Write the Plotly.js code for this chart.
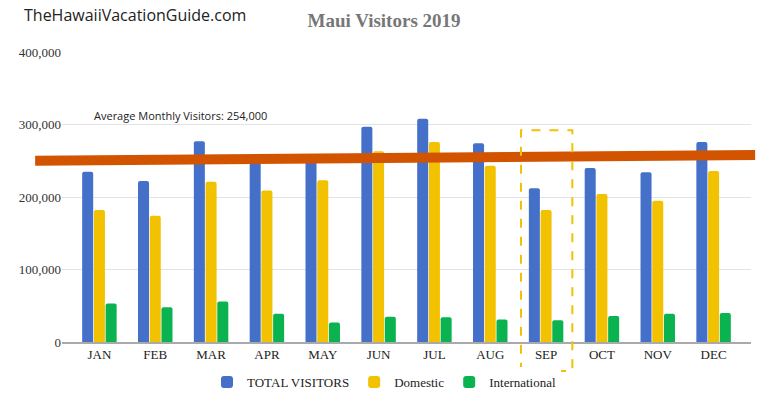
<!DOCTYPE html>
<html>
<head>
<meta charset="utf-8">
<script src="https://cdn.plot.ly/plotly-3.0.1.min.js"></script>
<style>html,body{margin:0;padding:0;background:#fff;}#chart{width:768px;height:401px;}</style>
</head>
<body>
<div id="chart"></div>
<script>
const months = ['JAN','FEB','MAR','APR','MAY','JUN','JUL','AUG','SEP','OCT','NOV','DEC'];
const totalVisitors = [235000, 222000, 277000, 252000, 252000, 297000, 308000, 274000, 212000, 240000, 234000, 276000];
const domestic = [182000, 174000, 221000, 209000, 223000, 263000, 276000, 243000, 182000, 204000, 195000, 236000];
const international = [53000, 48000, 56000, 39000, 27000, 35000, 34000, 31000, 30000, 36000, 39000, 40000];
const seriesNames = ['TOTAL VISITORS', 'Domestic', 'International'];
const yTicks = [0, 100000, 200000, 300000, 400000];
const trendLine = [250000, 258000];
const averageLabel = 'Average Monthly Visitors: 254,000';
const highlightMonth = 'SEP';

const colors = ['#4470c9', '#f2c200', '#0ab34f'];
const xRange = [-0.67, 11.67];
const yRange = [0, 400000];
const serif = 'Liberation Serif, Times New Roman, serif';

const traces = [totalVisitors, domestic, international].map((vals, i) => ({
  type: 'bar', name: seriesNames[i], x: months.map((m, k) => k), y: vals,
  marker: {color: colors[i], cornerradius: 2}, hoverinfo: 'skip'
}));

const hi = months.indexOf(highlightMonth);
const toPx = v => (v - xRange[0]) / (xRange[1] - xRange[0]);
const toPy = v => (v - yRange[0]) / (yRange[1] - yRange[0]);

const layout = {
  width: 768, height: 401,
  margin: {l: 62, r: 17, t: 52, b: 59},
  paper_bgcolor: '#fff', plot_bgcolor: '#fff',
  bargap: 0.37, bargroupgap: 0.06,
  showlegend: true,
  legend: {orientation: 'h', xref: 'container', x: 0.5, xanchor: 'center', yref: 'container', y: 0.047, yanchor: 'middle',
    font: {family: serif, size: 13, color: '#222'}, itemwidth: 30},
  title: {text: '<b>Maui Visitors 2019</b>', xref: 'container', x: 0.5, xanchor: 'center', yref: 'container', y: 0.95, yanchor: 'middle',
    font: {family: serif, size: 19, color: '#777'}},
  xaxis: {range: xRange, tickmode: 'array', tickvals: months.map((m, k) => k), ticktext: months,
    showgrid: false, showline: true, linecolor: '#aaa', linewidth: 1.5, ticks: '', zeroline: false,
    tickfont: {family: serif, size: 13, color: '#222'}, fixedrange: true},
  yaxis: {range: yRange, tickmode: 'array', tickvals: yTicks, tickformat: ',', showgrid: true, gridcolor: '#e3e3e3',
    zeroline: false, showline: false, ticks: '', ticklen: 0,
    tickfont: {family: serif, size: 13, color: '#333'}, fixedrange: true},
  shapes: [
    {type: 'line', layer: 'above', xref: 'paper', yref: 'paper', x0: -0.039, x1: 1.006,
      y0: toPy(trendLine[0]), y1: toPy(trendLine[1]), line: {color: '#d35400', width: 10}},
    {type: 'rect', layer: 'above', xref: 'paper', yref: 'paper', x0: toPx(hi - 0.45), x1: toPx(hi + 0.47),
      y0: -0.1, y1: toPy(292000), line: {color: '#f2c200', width: 2, dash: 'dash'}, fillcolor: 'rgba(0,0,0,0)'}
  ],
  annotations: [
    {text: 'TheHawaiiVacationGuide.com', xref: 'paper', yref: 'paper', x: -40/689, xanchor: 'left', y: (342-15)/290, yanchor: 'middle',
      showarrow: false, font: {family: 'Open Sans, sans-serif', size: 16, color: '#222'}},
    {text: averageLabel, xref: 'paper', yref: 'paper', x: 30/689, xanchor: 'left', y: (342-115)/290, yanchor: 'middle',
      showarrow: false, font: {family: 'Open Sans, sans-serif', size: 11, color: '#222'}}
  ]
};

Plotly.newPlot('chart', traces, layout, {displayModeBar: false, staticPlot: true});
</script>
</body>
</html>
